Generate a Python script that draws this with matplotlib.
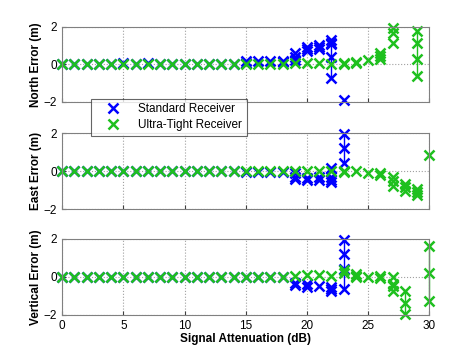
import matplotlib
matplotlib.use('Agg')
import matplotlib.pyplot as plt
from matplotlib.lines import Line2D

plt.rcParams['font.family'] = ['Liberation Sans', 'DejaVu Sans']

# Signal attenuation steps (dB)
atten = list(range(31))

# Error samples per attenuation step (m); empty list = off the plotted range
north_std = [[0.02], [0.02], [0.02], [0.02], [0.02], [0.05], [0.02], [0.05], [0.02], [0.02],
             [0.02], [0.02], [0.02], [0.02], [0.02], [0.15, 0.05], [0.15], [0.15], [0.15, 0.1],
             [0.62, 0.4, 0.2], [0.92, 0.8, 0.72], [1.0, 0.9, 0.8],
             [1.3, 1.15, 1.05, 0.4, -0.75], [-1.9],
             [], [], [], [], [], [], []]
north_ut = [[0.02], [0.02], [0.02], [0.02], [0.02], [0.02], [0.02], [0.02], [0.02], [0.02],
            [0.02], [0.02], [0.02], [0.02], [0.02], [0.02], [0.02], [0.02], [0.02],
            [0.05], [0.08], [0.05], [0.02], [0.08, 0.02], [0.12, 0.08], [0.2],
            [0.6, 0.45, 0.3], [1.95, 1.65, 1.15], [], [1.75, 1.15, 0.3, -0.6], []]

east_std = [[0.0], [0.0], [0.0], [0.0], [0.0], [0.0], [0.0], [0.0], [0.0], [0.0],
            [0.0], [0.0], [0.0], [0.0], [0.0], [-0.05], [-0.05], [-0.05], [-0.05],
            [-0.1, -0.3, -0.4], [-0.35, -0.45], [-0.3, -0.45],
            [0.15, -0.3, -0.45, -0.55], [1.95, 1.2, 0.45],
            [], [], [], [], [], [], []]
east_ut = [[0.0], [0.0], [0.0], [0.0], [0.0], [0.0], [0.0], [0.0], [0.0], [0.0],
           [0.0], [0.0], [0.0], [0.0], [0.0], [0.0], [0.0], [0.0], [0.0],
           [0.0], [0.0], [0.0], [0.0], [0.02, -0.05], [0.0], [-0.1],
           [-0.1, -0.18], [-0.3, -0.5, -0.8], [-0.7, -0.85, -1.05],
           [-0.95, -1.1, -1.25], [0.85]]

vert_std = [[0.0], [0.0], [0.0], [0.0], [0.0], [0.0], [0.0], [0.0], [0.0], [0.0],
            [0.0], [0.0], [0.0], [0.0], [0.0], [0.0], [0.0], [0.0], [0.0],
            [-0.3, -0.45], [-0.4, -0.55], [-0.5], [-0.55, -0.65, -0.75],
            [1.95, 1.18, 0.4, -0.65],
            [], [], [], [], [], [], []]
vert_ut = [[0.0], [0.0], [0.0], [0.0], [0.0], [0.0], [0.0], [0.0], [0.0], [0.0],
           [0.0], [0.0], [0.0], [0.0], [0.0], [0.0], [0.0], [0.0], [0.0],
           [0.05], [0.1], [0.1], [0.05], [0.35, 0.2], [0.15, 0.05, 0.0], [0.0],
           [0.05, -0.05], [0.0, -0.35, -0.5, -0.75], [-0.75, -1.35, -1.95], [],
           [1.65, 0.2, -1.25]]

# attenuation steps where the samples are joined by a vertical line
north_std_link = [22]
north_ut_link = [29]
east_std_link = [23]
east_ut_link = []
vert_std_link = [23]
vert_ut_link = [28, 30]

ylabels = ['North Error (m)', 'East Error (m)', 'Vertical Error (m)']
xticks = [0, 5, 10, 15, 20, 25, 30]
yticks = [-2, 0, 2]

BLUE = '#0000ff'
GREEN = '#1ec01e'


def draw_series(ax, data, links, color):
    for x, vals in zip(atten, data):
        if not vals:
            continue
        if x in links:
            ax.plot([x] * len(vals), vals, '-', color=color, lw=1.0, clip_on=False)
        ax.plot([x] * len(vals), vals, 'x', color=color, ms=6.5, mew=1.8,
                clip_on=False)


fig = plt.figure(figsize=(4.74, 3.55), dpi=100)
rects = [[0.131, 0.713, 0.775, 0.212],
         [0.131, 0.411, 0.775, 0.214],
         [0.131, 0.113, 0.775, 0.214]]
panels = [(north_std, north_ut, north_std_link, north_ut_link),
          (east_std, east_ut, east_std_link, east_ut_link),
          (vert_std, vert_ut, vert_std_link, vert_ut_link)]

for i, (r, (std, ut, sl, ul)) in enumerate(zip(rects, panels)):
    ax = fig.add_axes(r)
    draw_series(ax, std, sl, BLUE)
    draw_series(ax, ut, ul, GREEN)
    ax.set_xlim(0, 30)
    ax.set_ylim(-2, 2)
    ax.set_xticks(xticks)
    ax.set_yticks(yticks)
    ax.grid(True, linestyle=':', color='#a0a0a0', lw=0.8)
    ax.tick_params(direction='in', length=3, labelsize=8.5, colors='#404040',
                   labelcolor='black')
    for s in ax.spines.values():
        s.set_color('#808080')
    ax.set_ylabel(ylabels[i], fontsize=8.5, fontweight='bold')
    ax.yaxis.set_label_coords(-0.055, 0.5)
    if i < 2:
        ax.set_xticklabels([])
    else:
        ax.set_xlabel('Signal Attenuation (dB)', fontsize=8.5, fontweight='bold',
                      labelpad=1)

handles = [Line2D([], [], ls='none', marker='x', color=BLUE, ms=6.5, mew=1.8),
           Line2D([], [], ls='none', marker='x', color=GREEN, ms=6.5, mew=1.8)]
leg = fig.legend(handles, ['Standard Receiver', 'Ultra-Tight Receiver'],
                 loc='upper left', bbox_to_anchor=(0.192, 0.722), fontsize=8.5,
                 frameon=True, fancybox=False, borderaxespad=0, borderpad=0.4,
                 handlelength=3.0, handletextpad=0.6, labelspacing=0.3)
leg.get_frame().set_edgecolor('#404040')
leg.get_frame().set_linewidth(0.8)
leg.set_zorder(10)

fig.savefig('out.png', dpi=100)
